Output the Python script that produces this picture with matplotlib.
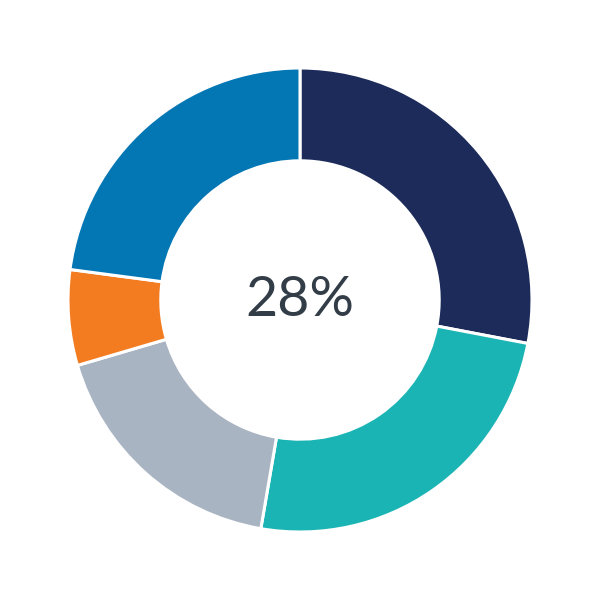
import matplotlib
matplotlib.use("Agg")
import matplotlib.pyplot as plt

categories = ["A", "B", "C", "D", "E"]
values = [28, 24.7, 17.75, 6.65, 22.9]
colors = ["#1c2b5a", "#1bb4b4", "#a9b4c3", "#f47c20", "#0376b4"]
center_label = "28%"

fig = plt.figure(figsize=(6, 6), dpi=100)
ax = fig.add_axes([0, 0, 1, 1])
ax.pie(values, colors=colors, startangle=90, counterclock=False,
       radius=1.0,
       wedgeprops=dict(width=0.4, edgecolor="white", linewidth=2.2))
lim = 300 / 232
ax.set_xlim(-lim, lim)
ax.set_ylim(-lim, lim)
ax.set_aspect("equal")
ax.axis("off")
ax.text(0, 0, center_label, ha="center", va="center", fontsize=40,
        color="#333d48", family="Lato")
fig.savefig("out.png", dpi=100, facecolor="white")
